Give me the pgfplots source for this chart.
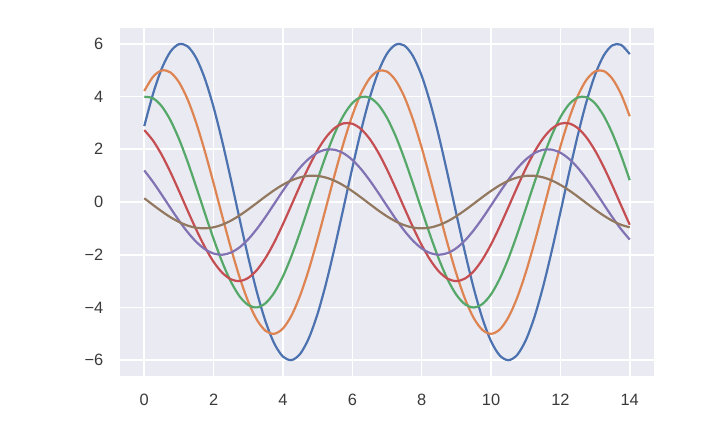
\documentclass[border=0pt]{standalone}
\usepackage{fontspec}
\setmainfont{Liberation Sans}
\usepackage{pgfplots}
\usepackage{pgfplotstable}
\pgfplotsset{compat=1.18}

\definecolor{sbbg}{HTML}{EAEAF2}
\definecolor{sbblue}{HTML}{4C72B0}
\definecolor{sborange}{HTML}{DD8452}
\definecolor{sbgreen}{HTML}{55A868}
\definecolor{sbred}{HTML}{C44E52}
\definecolor{sbpurple}{HTML}{8172B3}
\definecolor{sbbrown}{HTML}{937860}
\definecolor{ticktext}{HTML}{3A3A3A}

% six damped-phase sine curves, one column each
\pgfplotstableread{
x a b c d e f
0 2.876 4.208 3.990 2.728 1.197 0.141
0.25 4.090 4.745 3.936 2.334 0.763 -0.108
0.5 5.049 4.988 3.637 1.796 0.282 -0.351
0.75 5.694 4.920 3.112 1.145 -0.216 -0.572
1.0 5.985 4.547 2.394 0.423 -0.702 -0.757
1.25 5.904 3.891 1.527 -0.325 -1.143 -0.895
1.5 5.456 2.993 0.564 -1.052 -1.514 -0.978
1.75 4.669 1.909 -0.433 -1.715 -1.790 -0.999
2.0 3.591 0.706 -1.403 -2.270 -1.955 -0.959
2.25 2.290 -0.541 -2.286 -2.685 -1.999 -0.859
2.5 0.847 -1.754 -3.027 -2.933 -1.918 -0.706
2.75 -0.649 -2.858 -3.580 -2.998 -1.718 -0.508
3.0 -2.105 -3.784 -3.910 -2.877 -1.411 -0.279
3.25 -3.430 -4.475 -3.997 -2.577 -1.017 -0.033
3.5 -4.541 -4.888 -3.836 -2.117 -0.559 0.215
3.75 -5.370 -4.997 -3.436 -1.525 -0.066 0.450
4.0 -5.865 -4.795 -2.822 -0.838 0.430 0.657
4.25 -5.996 -4.295 -2.033 -0.100 0.900 0.823
4.5 -5.753 -3.528 -1.118 0.645 1.314 0.938
4.75 -5.153 -2.542 -0.133 1.350 1.646 0.995
5.0 -4.233 -1.397 0.860 1.971 1.876 0.989
5.25 -3.050 -0.166 1.800 2.469 1.989 0.922
5.5 -1.676 1.076 2.628 2.814 1.979 0.799
5.75 -0.199 2.250 3.292 2.984 1.845 0.625
6.0 1.291 3.285 3.752 2.968 1.597 0.412
6.25 2.700 4.116 3.978 2.767 1.250 0.174
6.5 3.942 4.690 3.958 2.396 0.824 -0.075
6.75 4.939 4.973 3.690 1.874 0.348 -0.320
7.0 5.628 4.947 3.194 1.236 -0.150 -0.544
7.25 5.968 4.612 2.499 0.522 -0.639 -0.735
7.5 5.936 3.993 1.648 -0.226 -1.088 -0.880
7.75 5.534 3.124 0.696 -0.959 -1.469 -0.970
8.0 4.791 2.061 -0.301 -1.632 -1.760 -1.000
8.25 3.749 0.870 -1.278 -2.204 -1.940 -0.968
8.5 2.473 -0.376 -2.176 -2.639 -2.000 -0.876
8.75 1.043 -1.598 -2.939 -2.910 -1.936 -0.729
9.0 -0.451 -2.720 -3.519 -3.000 -1.751 -0.537
9.25 -1.917 -3.674 -3.880 -2.903 -1.457 -0.311
9.5 -3.264 -4.399 -4.000 -2.627 -1.073 -0.066
9.75 -4.408 -4.850 -3.871 -2.186 -0.622 0.183
10.0 -5.279 -5.000 -3.502 -1.610 -0.133 0.420
10.25 -5.820 -4.839 -2.915 -0.933 0.365 0.632
10.5 -6.000 -4.378 -2.146 -0.199 0.840 0.804
10.75 -5.807 -3.644 -1.244 0.548 1.263 0.926
11.0 -5.253 -2.683 -0.265 1.261 1.608 0.991
11.25 -4.372 -1.556 0.730 1.895 1.852 0.994
11.5 -3.220 -0.332 1.681 2.411 1.981 0.935
11.75 -1.867 0.913 2.527 2.778 1.987 0.818
12.0 -0.398 2.101 3.215 2.972 1.870 0.650
12.25 1.096 3.159 3.704 2.981 1.636 0.442
12.5 2.521 4.019 3.962 2.805 1.301 0.207
12.75 3.790 4.630 3.975 2.454 0.884 -0.042
13.0 4.823 4.953 3.740 1.951 0.413 -0.288
13.25 5.556 4.969 3.272 1.326 -0.084 -0.516
13.5 5.944 4.675 2.601 0.620 -0.576 -0.712
13.75 5.962 4.090 1.768 -0.126 -1.031 -0.864
14.0 5.609 3.252 0.826 -0.864 -1.424 -0.961
}\sines

\begin{document}
\begin{tikzpicture}
\path[use as bounding box] (-60pt,-22pt) rectangle (300pt,188pt);
\begin{axis}[
  at={(0pt,0pt)}, anchor=south west,
  scale only axis,
  width=267pt, height=174pt,
  xmin=-0.7, xmax=14.7,
  ymin=-6.6, ymax=6.6,
  xtick={0,2,...,14},
  ytick={-6,-4,...,6},
  xticklabels={0,2,4,6,8,10,12,14},
  yticklabels={−6,−4,−2,0,2,4,6},
  axis background/.style={fill=sbbg},
  axis line style={draw=none},
  major tick length=0pt,
  grid=major,
  major grid style={draw=white, line width=0.8pt},
  tick label style={font=\fontsize{8.2}{10}\selectfont, text=ticktext},
  xticklabel style={yshift=-5.5pt},
  yticklabel style={xshift=-4.8pt},
  every axis plot/.append style={line width=1.1pt, smooth},
]
\addplot[sbblue] table[x=x, y=a] {\sines};
\addplot[sborange] table[x=x, y=b] {\sines};
\addplot[sbgreen] table[x=x, y=c] {\sines};
\addplot[sbred] table[x=x, y=d] {\sines};
\addplot[sbpurple] table[x=x, y=e] {\sines};
\addplot[sbbrown] table[x=x, y=f] {\sines};
\end{axis}
\end{tikzpicture}
\end{document}
